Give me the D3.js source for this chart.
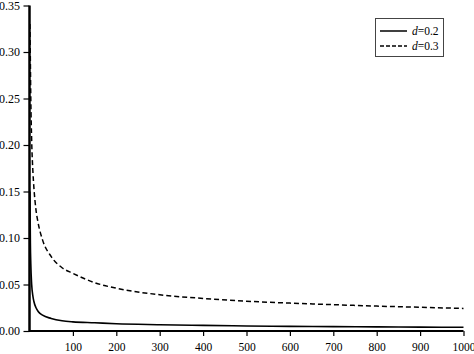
<!DOCTYPE html>
<html lang="en">
<head>
<meta charset="UTF-8">
<title>Decay curves</title>
<script src="https://d3js.org/d3.v7.min.js"></script>
<style>
    body { margin: 0; background: #fff; }
    svg { display: block; }
</style>
</head>
<body>
<svg width="474" height="354"></svg>
<script>
// values
const lagsSolid = [1, 2, 3, 5, 8, 10, 15, 20, 30, 50, 75, 100, 150, 200, 300, 400, 500, 600, 700, 800, 900, 1000];
const valuesSolid = [0.15, 0.095, 0.072, 0.05, 0.037, 0.032, 0.025, 0.021, 0.017, 0.0135, 0.011, 0.0098, 0.0088, 0.0078, 0.0068, 0.006, 0.0054, 0.005, 0.0047, 0.0044, 0.0042, 0.004];
const lagsDashed = [1, 2, 3, 5, 8, 10, 15, 20, 30, 50, 75, 100, 150, 200, 300, 400, 500, 600, 700, 800, 900, 1000];
const valuesDashed = [0.33, 0.29, 0.25, 0.205, 0.17, 0.155, 0.13, 0.116, 0.098, 0.08, 0.068, 0.062, 0.052, 0.046, 0.039, 0.035, 0.032, 0.03, 0.0283, 0.0268, 0.0255, 0.0243];
const xTicks = [100, 200, 300, 400, 500, 600, 700, 800, 900, 1000];
const yTicks = [0, 0.05, 0.10, 0.15, 0.20, 0.25, 0.30, 0.35];
const seriesNames = ["0.2", "0.3"];

const serif = '"Liberation Serif", "DejaVu Serif", serif';
const svg = d3.select("svg").attr("font-family", serif);
const x = d3.scaleLinear().domain([0, 1000]).range([29.5, 463.5]);
const y = d3.scaleLinear().domain([0, 0.35]).range([331, 5.5]);

const line = d3.line()
    .x(d => x(d[0]))
    .y(d => y(d[1]))
    .curve(d3.curveMonotoneX);

const solid = lagsSolid.map((n, i) => [n, valuesSolid[i]]);
const dashed = lagsDashed.map((n, i) => [n, valuesDashed[i]]);

svg.append("path")
    .datum(dashed)
    .attr("d", line)
    .attr("fill", "none")
    .attr("stroke", "#000")
    .attr("stroke-width", 1.5)
    .attr("stroke-dasharray", "5,3");

svg.append("path")
    .datum(solid)
    .attr("d", line)
    .attr("fill", "none")
    .attr("stroke", "#000")
    .attr("stroke-width", 1.6);

// x axis
const gx = svg.append("g")
    .attr("transform", "translate(0,331)")
    .call(d3.axisBottom(x).tickValues(xTicks).tickSize(5).tickPadding(7).tickFormat(d3.format("d")))
    .attr("font-family", serif)
    .attr("font-size", 11.5);
gx.select(".domain").attr("stroke-width", 2).attr("d", `M${x(0)},0H${x(1000)}`);
gx.selectAll(".tick line").attr("stroke-width", 1.2);
gx.selectAll(".tick text").attr("fill", "#000");

// y axis
const gy = svg.append("g")
    .attr("transform", "translate(29.5,0)")
    .call(d3.axisLeft(y).tickValues(yTicks).tickSize(6).tickPadding(3.5).tickFormat(d3.format(".2f")))
    .attr("font-family", serif)
    .attr("font-size", 12);
gy.select(".domain").attr("stroke-width", 2.5).attr("d", `M0,${y(0.35)}V${y(0) + 1}`);
gy.selectAll(".tick line").attr("stroke-width", 1.2);
gy.selectAll(".tick text").attr("fill", "#000");

// legend
const legend = svg.append("g");
legend.append("rect")
    .attr("x", 375.5).attr("y", 18.5)
    .attr("width", 68).attr("height", 38)
    .attr("fill", "#fff")
    .attr("stroke", "#444")
    .attr("stroke-width", 1);

seriesNames.forEach((name, i) => {
    const ly = 31 + i * 15;
    legend.append("line")
        .attr("x1", 380).attr("x2", 407)
        .attr("y1", ly).attr("y2", ly)
        .attr("stroke", "#000")
        .attr("stroke-width", 1.5)
        .attr("stroke-dasharray", i === 0 ? null : "4,2");
    const t = legend.append("text")
        .attr("x", 412).attr("y", ly + 4)
        .attr("font-size", 11.5);
    t.append("tspan").attr("font-style", "italic").text("d");
    t.append("tspan").text("=" + name);
});
</script>
</body>
</html>
